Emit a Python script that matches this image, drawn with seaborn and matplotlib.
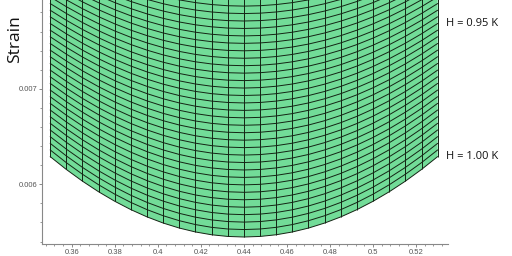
import numpy as np
import pandas as pd
import matplotlib
matplotlib.use("Agg")
import matplotlib.pyplot as plt
from matplotlib.ticker import MultipleLocator, FuncFormatter
import seaborn as sns

# ---- data ----
x_grid = [0.35, 0.3575, 0.365, 0.3725, 0.38, 0.3875, 0.395, 0.4025, 0.41, 0.4175,
          0.425, 0.4325, 0.44, 0.4475, 0.455, 0.4625, 0.47, 0.4775, 0.485, 0.4925,
          0.5, 0.5075, 0.515, 0.5225, 0.53]
x_center = 0.44
h_levels = [1.0, 0.9975, 0.995, 0.9925, 0.99, 0.9875, 0.985, 0.9825, 0.98, 0.9775,
            0.975, 0.9725, 0.97, 0.9675, 0.965, 0.9625, 0.96, 0.9575, 0.955, 0.9525,
            0.95, 0.9475, 0.945, 0.9425, 0.94, 0.9375, 0.935, 0.9325, 0.93, 0.9275,
            0.925, 0.9225, 0.92, 0.9175, 0.915, 0.9125, 0.91]
# strain at the vertex (x = 0.44) for each H, x1e-3
vertex_strain = [5.448, 5.526, 5.604, 5.682, 5.760, 5.838, 5.916, 5.994, 6.072, 6.150,
                 6.228, 6.306, 6.384, 6.462, 6.540, 6.618, 6.696, 6.774, 6.852, 6.930,
                 7.008, 7.086, 7.164, 7.242, 7.320, 7.398, 7.476, 7.554, 7.632, 7.710,
                 7.788, 7.866, 7.944, 8.022, 8.100, 8.178, 8.256]
# strain at the edges (x = 0.35 / 0.53) for each H, x1e-3
edge_strain = [6.290, 6.360, 6.429, 6.499, 6.569, 6.639, 6.708, 6.778, 6.848, 6.917,
               6.987, 7.057, 7.126, 7.196, 7.266, 7.336, 7.405, 7.475, 7.545, 7.614,
               7.684, 7.754, 7.823, 7.893, 7.963, 8.033, 8.102, 8.172, 8.242, 8.311,
               8.381, 8.451, 8.520, 8.590, 8.660, 8.730, 8.799]
label_levels = [0.95, 1.00]
label_texts = ["H = 0.95 K", "H = 1.00 K"]

# ---- build the long table ----
xg = np.array(x_grid)
half = (xg[-1] - xg[0]) / 2
rows = []
curves = {}
for h, c, e in zip(h_levels, vertex_strain, edge_strain):
    s = (c + (e - c) * ((xg - x_center) / half) ** 2) * 1e-3
    curves[h] = s
    for xv, sv in zip(xg, s):
        rows.append({"x": xv, "strain": sv, "H": h})
df = pd.DataFrame(rows)

sns.set_style("ticks")
plt.rcParams["font.family"] = ["Open Sans", "DejaVu Sans"]

fig = plt.figure(figsize=(5.12, 2.56), dpi=100)
ax = fig.add_axes([0.082, 0.047, 0.793, 0.953])

green = "#72dc98"
bottom = curves[h_levels[0]]
top = curves[h_levels[-1]]
ax.fill_between(xg, bottom, top, color=green, lw=0, zorder=1)
sns.lineplot(data=df, x="x", y="strain", units="H", estimator=None, color="#142414",
             lw=0.7, ax=ax, legend=False, sort=True, zorder=2)
ax.vlines(xg, bottom, top, color="#142414", lw=0.7, zorder=2)

for h, t in zip(label_levels, label_texts):
    idx = int(np.argmin(np.abs(np.array(h_levels) - h)))
    ax.annotate(t, xy=(xg[-1], curves[h_levels[idx]][-1]), xytext=(6, 0),
                textcoords="offset points", ha="left", va="center",
                fontsize=8, color="#111111", annotation_clip=False)

ax.set_xlim(0.3462, 0.5348)
ax.set_ylim(0.005375, 0.00793)
ax.set_xlabel("")
ax.set_ylabel("")

ax.xaxis.set_major_locator(MultipleLocator(0.02))
ax.xaxis.set_minor_locator(MultipleLocator(0.004))
ax.yaxis.set_major_locator(MultipleLocator(0.001))
ax.yaxis.set_minor_locator(MultipleLocator(0.0002))
fmt = FuncFormatter(lambda v, p: "%g" % round(v, 6))
ax.xaxis.set_major_formatter(fmt)
ax.yaxis.set_major_formatter(fmt)

for s in ["top", "right"]:
    ax.spines[s].set_visible(False)
for s in ["left", "bottom"]:
    ax.spines[s].set_color("#888888")
    ax.spines[s].set_linewidth(0.8)
ax.tick_params(which="major", length=2.5, width=0.7, color="#888888",
               labelsize=5.5, labelcolor="#555555", pad=0.8)
ax.tick_params(which="minor", length=1.5, width=0.6, color="#888888")
for lab in ax.get_xticklabels() + ax.get_yticklabels():
    lab.set_family(["Liberation Sans", "DejaVu Sans"])

fig.text(15 / 512, 1 - 39 / 256, "Strain", rotation=90, ha="center", va="center",
         fontsize=12.5, color="#111111")

fig.savefig("out.png", dpi=100)
